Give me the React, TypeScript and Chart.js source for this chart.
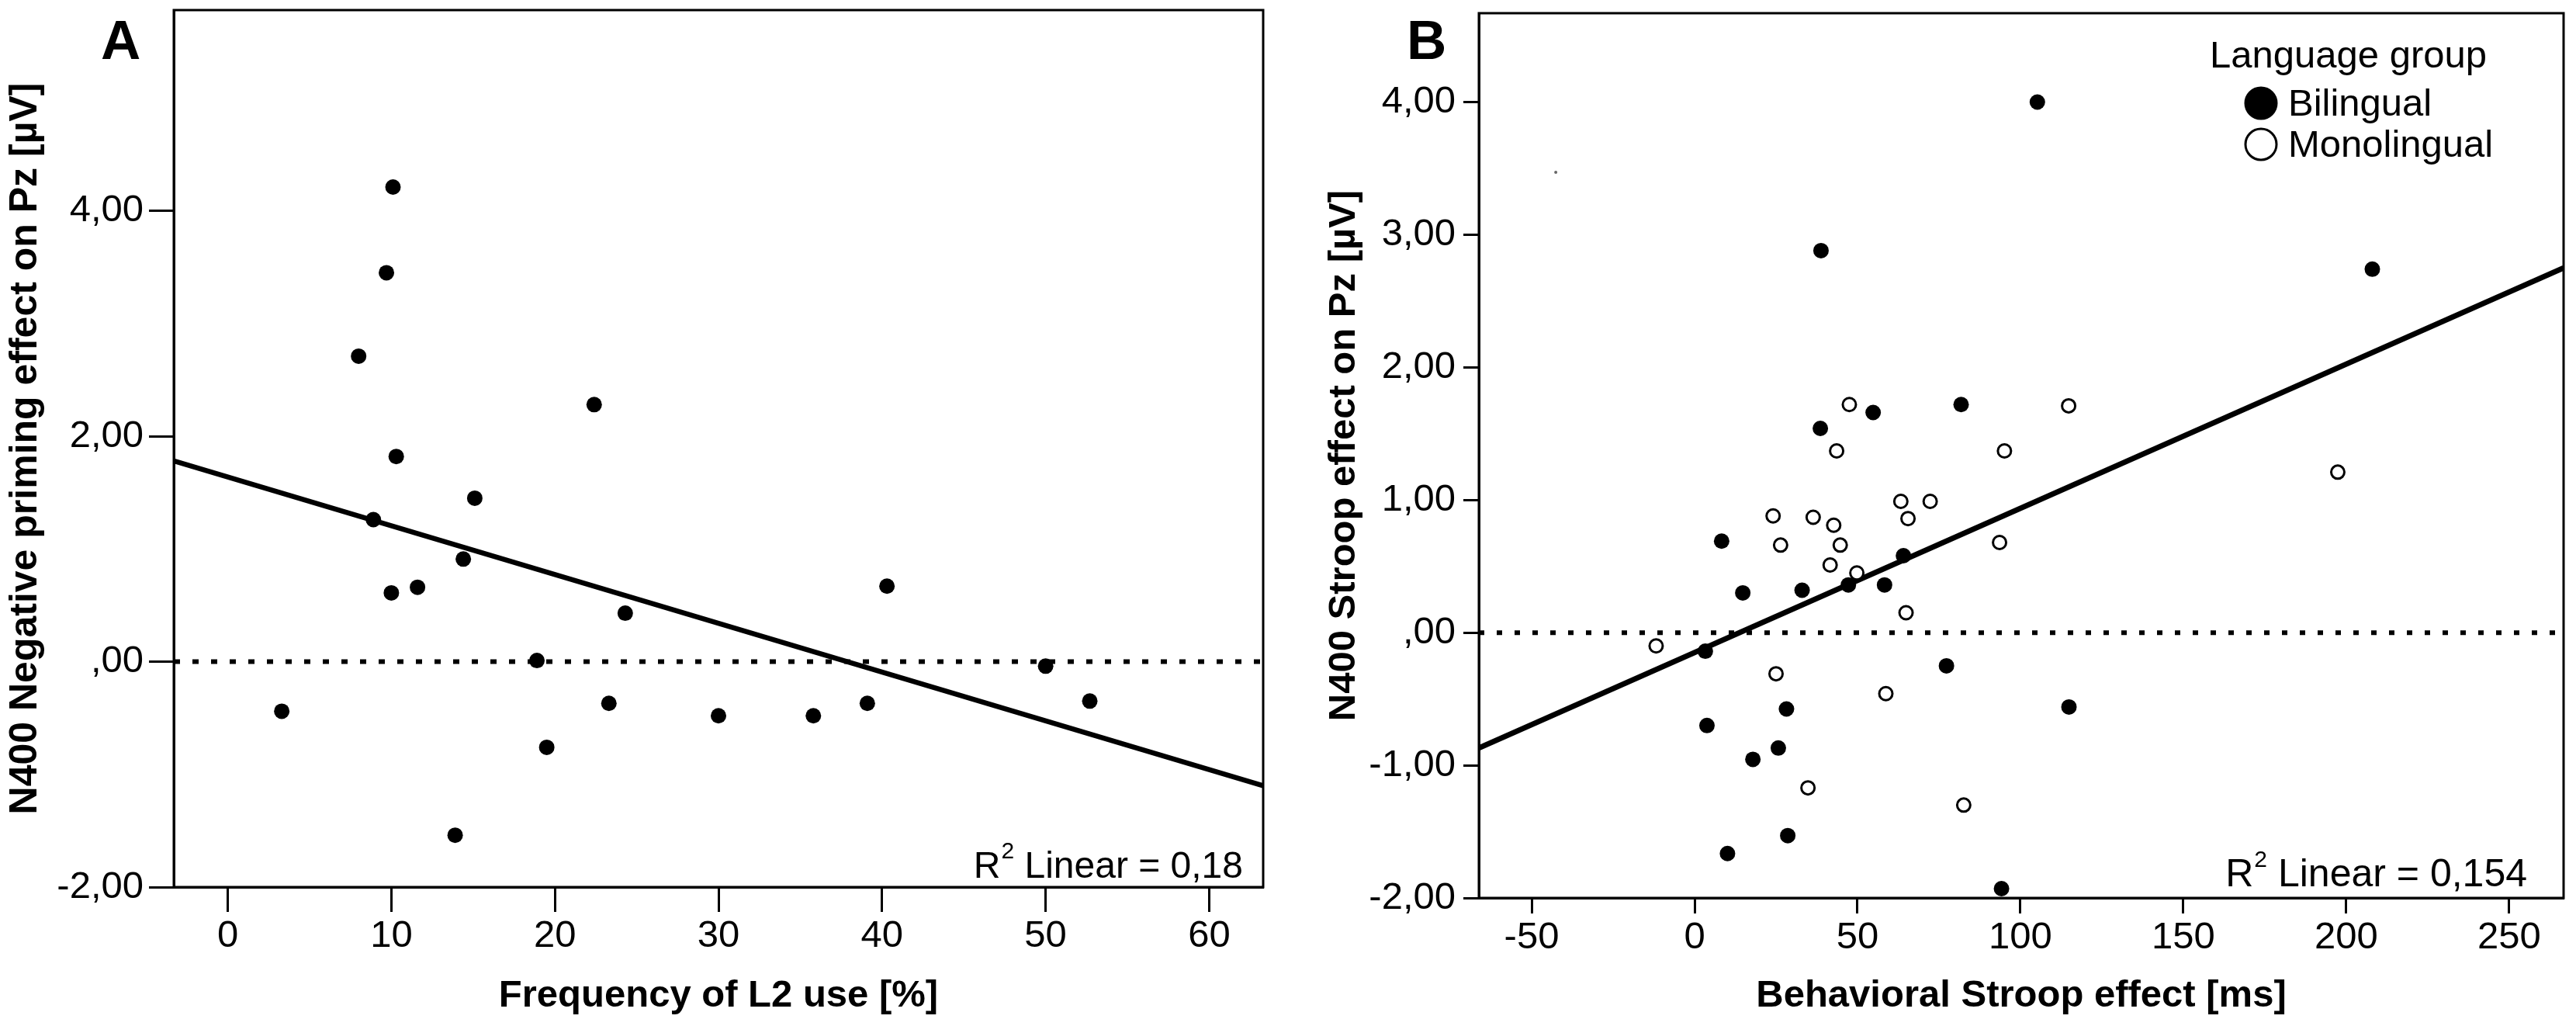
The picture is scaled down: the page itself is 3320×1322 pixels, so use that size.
import { useEffect, useRef } from "react";
import { Chart, registerables } from "chart.js";

Chart.register(...registerables);

const FONT = '"Liberation Sans", Arial, Helvetica, sans-serif';

// ---- Panel A: frequency of L2 use vs. N400 negative priming effect ----
const l2Use = [3.3, 8.0, 8.9, 9.7, 10.0, 10.1, 10.3, 11.6, 13.9, 14.4, 15.1, 18.9, 19.5, 22.4, 23.3, 24.3, 30.0, 35.8, 39.1, 40.3, 50.0, 52.7];
const primingEffect = [-0.44, 2.71, 1.26, 3.45, 0.61, 4.21, 1.82, 0.66, -1.54, 0.91, 1.45, 0.01, -0.76, 2.28, -0.37, 0.43, -0.48, -0.48, -0.37, 0.67, -0.04, -0.35];
const fitAx = [-3.3, 63.3];
const fitAy = [1.78, -1.1];
const rangeAx = [-3.3, 63.3];
const rangeAy = [-2, 5.78];

// ---- Panel B: behavioral Stroop effect vs. N400 Stroop effect ----
const groupLabels = ["Bilingual", "Monolingual"];
const legendTitle = "Language group";

const biStroop = [105.2, 38.8, 54.8, 81.8, 38.6, 8.3, 64.1, 14.8, 33.0, 47.2, 58.3, 3.3, 77.3, 28.2, 3.8, 25.7, 17.9, 28.6, 10.1, 94.2, 208.0, 114.9];
const biN400 = [4.0, 2.88, 1.66, 1.72, 1.54, 0.69, 0.58, 0.3, 0.32, 0.36, 0.36, -0.14, -0.25, -0.575, -0.7, -0.87, -0.955, -1.53, -1.665, -1.93, 2.74, -0.56];

const monoStroop = [47.5, 114.8, 43.6, 95.1, 63.3, 72.3, 24.1, 36.4, 42.7, 65.5, 26.4, 44.7, 93.6, 41.6, 49.8, 64.9, -11.8, 25.0, 58.7, 34.8, 82.6, 197.4];
const monoN400 = [1.72, 1.71, 1.37, 1.37, 0.99, 0.99, 0.88, 0.87, 0.81, 0.86, 0.66, 0.66, 0.68, 0.51, 0.45, 0.15, -0.1, -0.31, -0.46, -1.17, -1.3, 1.21];

const speckX = [-42.6];
const speckY = [3.47];

const fitBx = [-66.2, 266.7];
const fitBy = [-0.87, 2.75];
const rangeBx = [-66.2, 266.7];
const rangeBy = [-2, 4.67];

const zip = (xs: number[], ys: number[]) => xs.map((x, i) => ({ x, y: ys[i] }));

const commaTick = (v: number | string) => {
    const s = Number(v).toFixed(2).replace(".", ",");
    return s.startsWith("0,") ? s.slice(1) : s;
};

// frame, panel letter, R² note and the group legend
const decor = {
    id: "decor",
    afterDraw(chart: any, _args: any, opts: any) {
        const { ctx, chartArea: a } = chart;
        ctx.save();
        ctx.strokeStyle = "#000";
        ctx.lineWidth = 3;
        ctx.strokeRect(a.left, a.top, a.right - a.left, a.bottom - a.top);

        ctx.fillStyle = "#000";
        ctx.textAlign = "left";
        ctx.textBaseline = "alphabetic";
        ctx.font = `bold 71px ${FONT}`;
        ctx.fillText(opts.letter, opts.letterX, 76);

        // R² Linear = ...
        const rest = " Linear = " + opts.r2;
        ctx.font = `${opts.r2Size}px ${FONT}`;
        const wR = ctx.measureText("R").width;
        const wRest = ctx.measureText(rest).width;
        ctx.font = `30px ${FONT}`;
        const w2 = ctx.measureText("2").width;
        let x = a.right - opts.r2Right - (wR + w2 + wRest);
        const base = a.bottom - opts.r2Bottom;
        ctx.font = `${opts.r2Size}px ${FONT}`;
        ctx.fillText("R", x, base);
        x += wR;
        ctx.font = `30px ${FONT}`;
        ctx.fillText("2", x + 1, base - 25);
        x += w2 + 1;
        ctx.font = `${opts.r2Size}px ${FONT}`;
        ctx.fillText(rest, x, base);

        if (opts.legend) {
            const lg = opts.legend;
            ctx.font = `49px ${FONT}`;
            ctx.fillText(lg.title, lg.titleX, lg.titleY);
            lg.items.forEach((dsIndex: number, i: number) => {
                const ds = chart.data.datasets[dsIndex];
                const cy = lg.markerY[i];
                ctx.beginPath();
                ctx.arc(lg.markerX, cy, 20, 0, Math.PI * 2);
                ctx.fillStyle = ds.backgroundColor;
                ctx.fill();
                ctx.lineWidth = 3;
                ctx.strokeStyle = "#000";
                ctx.stroke();
                ctx.fillStyle = "#000";
                ctx.fillText(ds.label, lg.textX, lg.textY[i]);
            });
        }
        ctx.restore();
    },
};

function axis(opts: {
    min: number;
    max: number;
    step: number;
    tickLen: number;
    labelPad: number;
    size: number;
    horizontal: boolean;
    title: string;
    titleSize: number;
    titlePad: any;
    callback: (v: number | string) => string;
}) {
    return {
        type: "linear",
        min: opts.min,
        max: opts.max,
        // fixed axis box so the plot area sits where the reference has it
        afterFit: (s: any) => {
            if (opts.horizontal) s.height = opts.size;
            else s.width = opts.size;
            s.paddingTop = 0;
            s.paddingBottom = 0;
            s.paddingLeft = 0;
            s.paddingRight = 0;
        },
        border: { display: true, color: "#000", width: 3 },
        grid: {
            drawOnChartArea: false,
            drawTicks: true,
            tickLength: opts.tickLen,
            tickWidth: 3,
            tickColor: "#000",
            color: "#000",
        },
        ticks: {
            stepSize: opts.step,
            includeBounds: false,
            autoSkip: false,
            maxRotation: 0,
            padding: opts.labelPad,
            color: "#000",
            font: { family: FONT, size: 49 },
            callback: opts.callback,
        },
        title: {
            display: true,
            text: opts.title,
            color: "#000",
            font: { family: FONT, size: opts.titleSize, weight: "bold" },
            padding: opts.titlePad,
        },
    };
}

function PanelA() {
    const canvasRef = useRef<HTMLCanvasElement | null>(null);
    const chartInstance = useRef<Chart | null>(null);

    useEffect(() => {
        if (!canvasRef.current) return;
        chartInstance.current = new Chart(canvasRef.current, {
            type: "scatter",
            data: {
                datasets: [
                    {
                        label: "Participants",
                        data: zip(l2Use, primingEffect),
                        pointRadius: 10,
                        pointHoverRadius: 10,
                        backgroundColor: "#000",
                        borderColor: "#000",
                        borderWidth: 0,
                    },
                    {
                        label: "Linear fit",
                        data: zip(fitAx, fitAy),
                        showLine: true,
                        borderColor: "#000",
                        borderWidth: 6.5,
                        pointRadius: 0,
                    },
                    {
                        label: "Zero",
                        data: zip(rangeAx, [0, 0]),
                        showLine: true,
                        borderColor: "#000",
                        borderWidth: 6,
                        borderDash: [8, 16],
                        pointRadius: 0,
                    },
                ],
            },
            options: {
                responsive: false,
                animation: false,
                devicePixelRatio: 1,
                layout: { padding: { top: 13, right: 32, left: 0, bottom: 0 } },
                plugins: {
                    legend: { display: false },
                    tooltip: { enabled: false },
                    decor: { letter: "A", letterX: 130, r2: "0,18", r2Size: 48, r2Right: 27, r2Bottom: 12 },
                } as any,
                scales: {
                    x: axis({
                        min: rangeAx[0], max: rangeAx[1], step: 10, tickLen: 32, labelPad: 2,
                        size: 179, horizontal: true,
                        title: "Frequency of L2 use [%]", titleSize: 49, titlePad: { top: 0, bottom: 9 },
                        callback: (v) => String(v),
                    }),
                    y: axis({
                        min: rangeAy[0], max: rangeAy[1], step: 2, tickLen: 32, labelPad: 7,
                        size: 224, horizontal: false,
                        title: "N400 Negative priming effect on Pz [µV]", titleSize: 50, titlePad: { top: 3, bottom: 0 },
                        callback: commaTick,
                    }),
                } as any,
            },
            plugins: [decor],
        } as any);
        return () => {
            chartInstance.current?.destroy();
        };
    }, []);

    return <canvas ref={canvasRef} width={1660} height={1322} style={{ display: "block" }} />;
}

function PanelB() {
    const canvasRef = useRef<HTMLCanvasElement | null>(null);
    const chartInstance = useRef<Chart | null>(null);

    useEffect(() => {
        if (!canvasRef.current) return;
        chartInstance.current = new Chart(canvasRef.current, {
            type: "scatter",
            data: {
                datasets: [
                    {
                        label: groupLabels[0],
                        data: zip(biStroop, biN400),
                        pointRadius: 10,
                        pointHoverRadius: 10,
                        backgroundColor: "#000",
                        borderColor: "#000",
                        borderWidth: 0,
                    },
                    {
                        label: groupLabels[1],
                        data: zip(monoStroop, monoN400),
                        pointRadius: 8.5,
                        pointHoverRadius: 8.5,
                        backgroundColor: "#fff",
                        borderColor: "#000",
                        borderWidth: 3,
                    },
                    {
                        label: "Speck",
                        data: zip(speckX, speckY),
                        pointRadius: 2,
                        backgroundColor: "#666",
                        borderWidth: 0,
                    },
                    {
                        label: "Linear fit",
                        data: zip(fitBx, fitBy),
                        showLine: true,
                        borderColor: "#000",
                        borderWidth: 7,
                        pointRadius: 0,
                    },
                    {
                        label: "Zero",
                        data: zip(rangeBx, [0, 0]),
                        showLine: true,
                        borderColor: "#000",
                        borderWidth: 6,
                        borderDash: [7, 16],
                        pointRadius: 0,
                    },
                ],
            },
            options: {
                responsive: false,
                animation: false,
                devicePixelRatio: 1,
                layout: { padding: { top: 17, right: 16, left: 0, bottom: 0 } },
                plugins: {
                    legend: { display: false },
                    tooltip: { enabled: false },
                    decor: {
                        letter: "B", letterX: 153, r2: "0,154", r2Size: 50, r2Right: 48, r2Bottom: 15,
                        legend: {
                            title: legendTitle, titleX: 1188, titleY: 87,
                            items: [0, 1], markerX: 1254, markerY: [133, 186],
                            textX: 1289, textY: [149, 202],
                        },
                    },
                } as any,
                scales: {
                    x: axis({
                        min: rangeBx[0], max: rangeBx[1], step: 50, tickLen: 20, labelPad: 2,
                        size: 165, horizontal: true,
                        title: "Behavioral Stroop effect [ms]", titleSize: 49, titlePad: { top: 0, bottom: 9 },
                        callback: (v) => String(v),
                    }),
                    y: axis({
                        min: rangeBy[0], max: rangeBy[1], step: 1, tickLen: 20, labelPad: 10,
                        size: 246, horizontal: false,
                        title: "N400 Stroop effect on Pz [µV]", titleSize: 49, titlePad: { top: 43, bottom: 0 },
                        callback: commaTick,
                    }),
                } as any,
            },
            plugins: [decor],
        } as any);
        return () => {
            chartInstance.current?.destroy();
        };
    }, []);

    return <canvas ref={canvasRef} width={1660} height={1322} style={{ display: "block" }} />;
}

export default function App() {
    return (
        <div style={{ position: "absolute", left: 0, top: 0, width: 3320, height: 1322, display: "flex", background: "#fff" }}>
            <PanelA />
            <PanelB />
        </div>
    );
}
